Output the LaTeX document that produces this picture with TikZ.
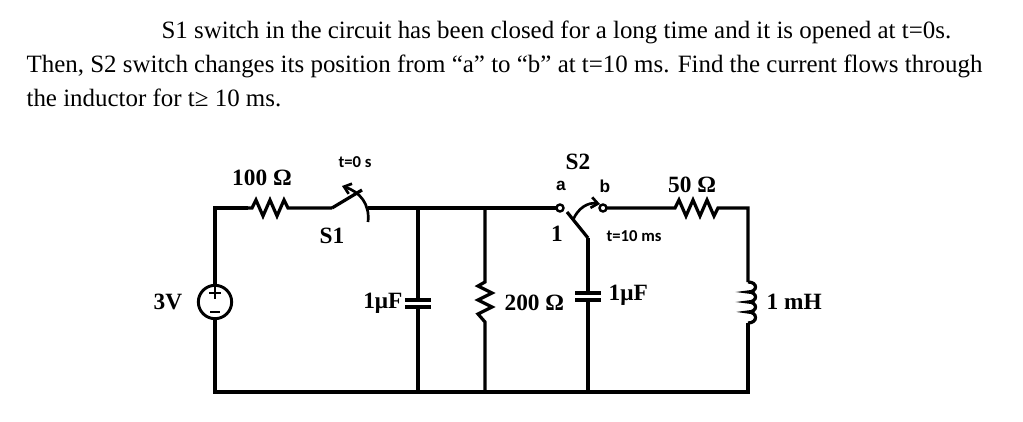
\documentclass[tikz,border=0pt]{standalone}
\usepackage{fontspec}
\setmainfont{Liberation Serif}
\newfontfamily\arialf{Liberation Sans}
\newfontfamily\calf{Carlito}
\usetikzlibrary{arrows.meta}
\begin{document}
\begin{tikzpicture}[x=0.75pt,y=-0.75pt,line width=2.4pt,
  lbl/.style={font=\fontsize{17.5}{20}\selectfont\bfseries,inner sep=0pt},
  slbl/.style={font=\calf\fontsize{12.5}{14}\selectfont\bfseries,inner sep=0pt},
  albl/.style={font=\arialf\fontsize{13}{15}\selectfont\bfseries,inner sep=0pt},
  txt/.style={font=\fontsize{18.7}{22}\selectfont,inner sep=0pt,anchor=base west},
  sarrow/.style={line width=2pt,-{Straight Barb[length=5pt,width=8pt]}}]
\useasboundingbox (0,0) rectangle (1023,421);
\fill[white] (0,0) rectangle (1023,421);
% text
\node[txt] (t1) at (160,38) {S1 switch in the circuit has been closed for a long time and it is opened at t=0s.};
\node[txt] (t2) at (25,72) {Then, S2 switch changes its position from “a” to “b” at t=10 ms. Find the current flows through};
\node[txt] (t3) at (25,106) {the inductor for t≥ 10 ms.};
% coordinates
\coordinate (tl) at (215,208);
\coordinate (bl) at (215,392);
\coordinate (br) at (748,392);
% source
\node[circle,draw,line width=2.2pt,minimum size=25pt,inner sep=0pt] (src) at (215,302) {};
\draw[line width=1.8pt] (209,293)--(221,293) (215,287)--(215,299) (210,312)--(220,312);
\node[lbl] (v) at (168,302) {3V};
\draw (src.north) -- (tl) -- (248,208);
\draw (src.south) -- (bl) -- (br) -- (748,323);
% 100 ohm
\draw (248,208) -- (252,208) -- (256,200) -- (263,216) -- (270,200) -- (277,216) -- (284,200) -- (288,208) -- (332,208);
\node[lbl] (r1l) at (262,178) {100 Ω};
% S1
\coordinate (s1p) at (332,208);
\draw (s1p) -- (362,190);
\draw (368,208) -- (556,208);
\draw[sarrow] (368,222) .. controls (370,204) and (360,192) .. (342,186);
\node[slbl] (s1t) at (355,162) {t=0 s};
\node[lbl] (s1l) at (332,236) {S1};
% cap 1
\draw (418,208) -- (418,300) (418,307) -- (418,392);
\draw (405,300) -- (431,300) (405,307) -- (431,307);
\node[lbl,anchor=east] (c1l) at (404,303) {1μF};
% 200 ohm
\draw (485,208) -- (485,282) -- (478,286) -- (492,293) -- (478,300) -- (492,307) -- (478,314) -- (485,322) -- (485,392);
\node[lbl,anchor=west] (r2l) at (503,303) {200 Ω};
% S2
\draw[line width=1.8pt,fill=white] (560,208) circle (3.5);
\draw[line width=1.8pt,fill=white] (603,208) circle (3.5);
\draw (588,238) -- (567,212);
\draw[sarrow] (573,220) .. controls (578,208) and (588,202) .. (600,204);
\node[lbl] (s2l) at (578,162) {S2};
\node[albl] (al) at (561,186) {a};
\node[albl] (bl2) at (605,186) {b};
\node[lbl] (onel) at (557,234) {1};
\node[slbl] (t10) at (634,236) {t=10 ms};
% cap 2
\draw (588,238) -- (588,293) (588,300) -- (588,392);
\draw (575,293) -- (601,293) (575,300) -- (601,300);
\node[lbl,anchor=west] (c2l) at (607,295) {1μF};
% 50 ohm
\draw (607,208) -- (675,208) -- (679,200) -- (686,216) -- (693,200) -- (700,216) -- (707,200) -- (714,216) -- (718,208) -- (748,208) -- (748,282);
\node[lbl] (r3l) at (692,185) {50 Ω};
% inductor
\draw (748,282) .. controls (758,282) and (758,292) .. (748,292)
  .. controls (758,292) and (758,302) .. (748,302)
  .. controls (758,302) and (758,312) .. (748,312)
  .. controls (758,312) and (758,323) .. (748,323);
\node[lbl,anchor=west] (ll) at (765,302) {1 mH};
\end{tikzpicture}
\end{document}
